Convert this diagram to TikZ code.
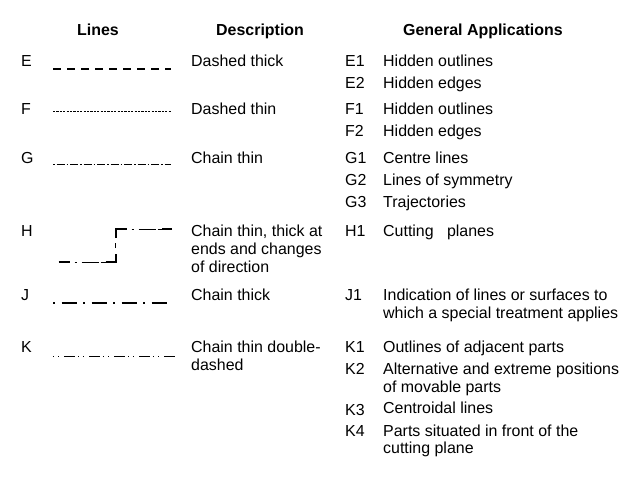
\documentclass[tikz,border=0pt]{standalone}
\usepackage{fontspec}
\setmainfont{Liberation Sans}
\usetikzlibrary{calc}
\begin{document}
\begin{tikzpicture}[x=1pt, y=-1pt, every node/.style={anchor=base west, inner sep=0pt, font=\fontsize{15.95}{18}\selectfont}]

    \tikzset{%
    head/.style={font=\fontsize{15.95}{18}\selectfont\bfseries},
    line thick/.style={line width=2pt, dash pattern=on 8pt off 6pt},
    line thin/.style={line width=0.5pt, dash pattern=on 2.2pt off 1.2pt},
    line chain/.style={line width=0.6pt, dash pattern=on 1.5pt off 2pt on 8pt off 2pt},
    line cut/.style={line width=0.7pt, dash pattern=on 0pt off 5pt on 2pt off 5pt on 12pt},
    line heavy/.style={line width=2pt},
    line chainthick/.style={line width=2pt, dash pattern=on 2pt off 6.7pt on 15.6pt off 5.7pt},
    line double/.style={line width=0.9pt, dash pattern=on 1pt off 4pt on 1pt off 5pt on 10.7pt off 3.3pt},
    }

    \useasboundingbox (0,0) rectangle (638,479);

    % Column headings
    \node [head] (head-lines) at (77,35) {Lines};
    \node [head] (head-desc) at (216,35) {Description};
    \node [head] (head-appl) at (403,35) {General Applications};

    % Line letters
    \foreach \m/\y in {E/66,F/114,G/163,H/236,J/300,K/352}
    \node (letter-\m) at (21,\y) {\m};

    % Descriptions
    \foreach \m/\y/\l in {E/66/Dashed thick,F/114/Dashed thin,G/163/Chain thin,H/236/{Chain thin, thick at},H2/254/ends and changes,H3/272/of direction,J/300/Chain thick,K/352/Chain thin double-,K2/370/dashed}
    \node (desc-\m) at (191,\y) {\l};

    % Application codes
    \foreach \m/\y in {E1/66,E2/88,F1/114,F2/136,G1/163,G2/185,G3/207,H1/236,J1/300,K1/352,K2/374,K3/415,K4/436}
    \node (code-\m) at (345,\y) {\m};

    % Application texts
    \foreach \m/\y/\l in {E1/66/Hidden outlines,E2/88/Hidden edges,F1/114/Hidden outlines,F2/136/Hidden edges,G1/163/Centre lines,G2/185/Lines of symmetry,G3/207/Trajectories,H1/236/Cutting\ \ \ planes,J1/300/Indication of lines or surfaces to,J1b/318/which a special treatment applies,K1/352/Outlines of adjacent parts,K2/374/Alternative and extreme positions,K2b/392/of movable parts,K3/413.5/Centroidal lines,K4/436/Parts situated in front of the,K4b/453.5/cutting plane}
    \node (appl-\m) at (383,\y) {\l};

    % Line samples
    \coordinate (e1) at (53,69);
    \coordinate (e2) at (171,69);
    \draw [line thick] (e1) -- (e2);
    \coordinate (f1) at (53,111.4);
    \coordinate (f2) at (171,111.4);
    \draw [line thin] (f1) -- (f2);
    \coordinate (g1) at (53,164.4);
    \coordinate (g2) at (171,164.4);
    \draw [line chain] (g1) -- (g2);

    % Cutting line, thick ends and corners then the thin parts
    \coordinate (h1) at (58.5,262);
    \coordinate (h2) at (115.5,262);
    \coordinate (h3) at (115.5,229);
    \coordinate (h4) at (172,229);
    \draw [line heavy] (h1) -- ++(11,0);
    \draw [line heavy] ($(h2)+(-10,0)$) -- (h2) -- ++(0,-8);
    \draw [line heavy] ($(h3)+(0,9)$) -- (h3) -- ++(11,0);
    \draw [line heavy] (h4) -- ++(-10,0);
    \draw [line cut] ($(h1)+(11,0)$) -- ($(h2)+(-10,0)$);
    \draw [line cut] ($(h3)+(11,0)$) -- ($(h4)+(-10,0)$);
    \draw [line width=0.7pt] ($(h2)+(0,-14)$) -- ($(h2)+(0,-19)$);

    \coordinate (j1) at (53,302.7);
    \coordinate (j2) at (167,302.7);
    \draw [line chainthick] (j1) -- (j2);
    \coordinate (k1) at (53.3,356);
    \coordinate (k2) at (175,356);
    \draw [line double] (k1) -- (k2);

\end{tikzpicture}
\end{document}
